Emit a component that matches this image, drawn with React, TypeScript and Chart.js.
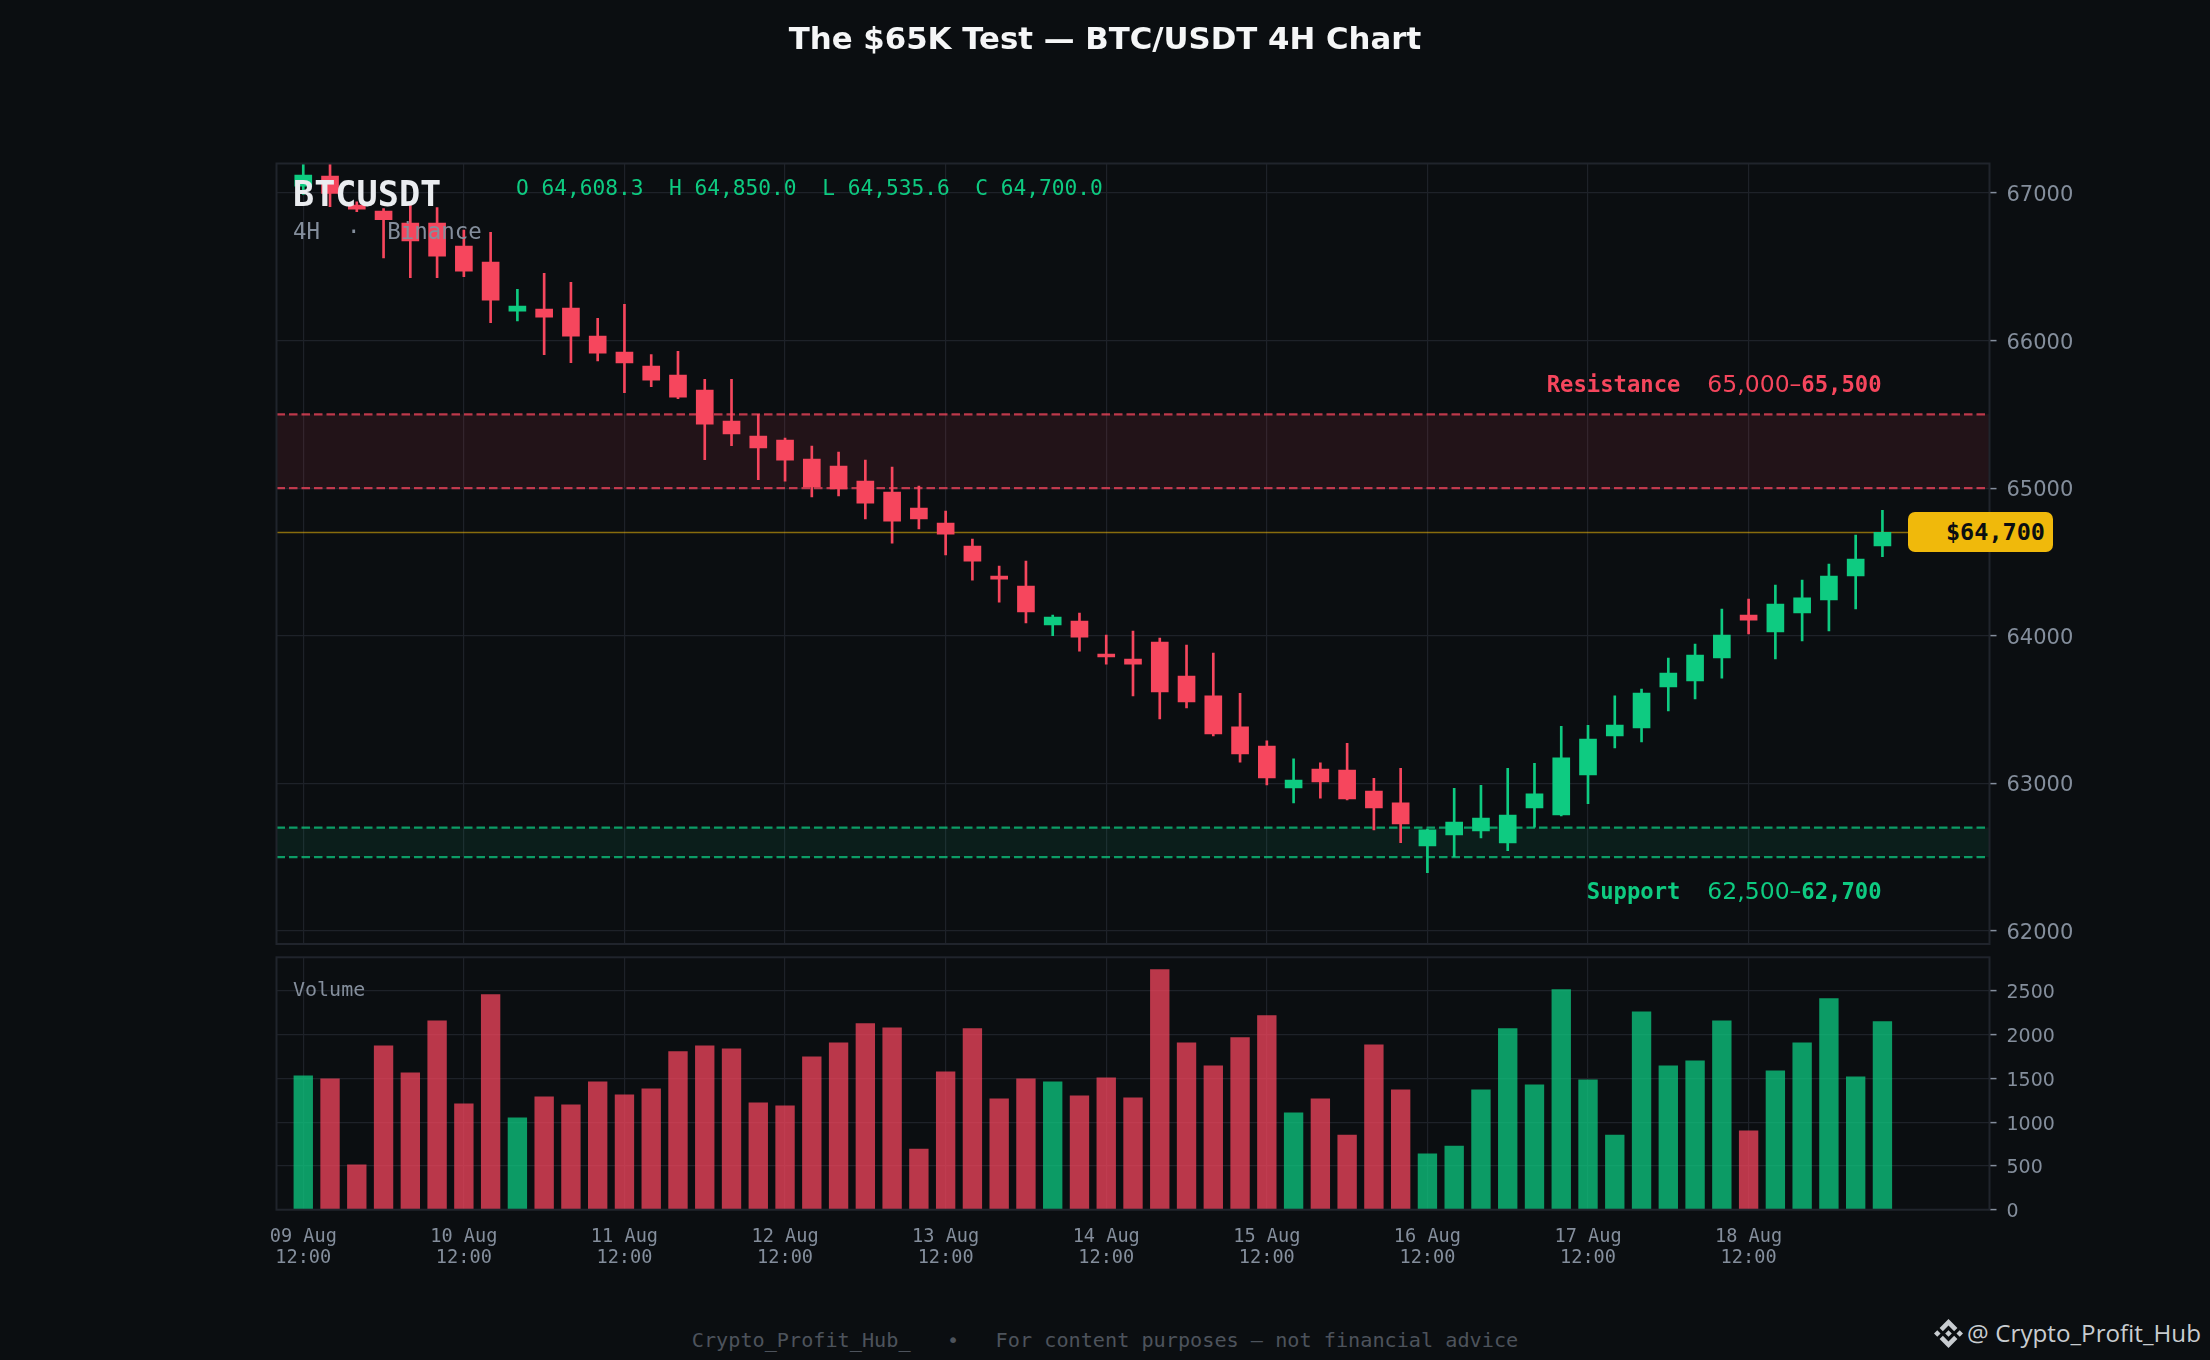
import React, { useEffect, useRef } from 'react';
import { Chart, registerables } from 'chart.js';

Chart.register(...registerables);

const MONO = '"DejaVu Sans Mono", monospace';
const SANS = '"DejaVu Sans", sans-serif';
const UP = '#0ecb81';
const DOWN = '#f6465d';
const GOLD = '#f0b90b';
const BG = '#0b0e11';
const GRID = '#1e2229';
const MUTED = '#848e9c';

const opens = [
  67047, 67115, 66918, 66877, 66796, 66796, 66640, 66532, 66200, 66213,
  66220, 66030, 65922, 65827, 65766, 65665, 65455, 65353, 65326, 65197,
  65150, 65048, 64974, 64865, 64764, 64608, 64405, 64337, 64073, 64100,
  63876, 63842, 63957, 63727, 63592, 63382, 63253, 62968, 63097, 63090,
  62948, 62867, 62575, 62650, 62677, 62596, 62833, 62785, 63056, 63321,
  63375, 63653, 63693, 63849, 64140, 64025, 64154, 64242, 64405, 64608,
];
const highs = [
  67300, 67300, 66941, 66895, 66918, 66902, 66749, 66733, 66347, 66455,
  66394, 66150, 66245, 65906, 65927, 65737, 65737, 65500, 65340, 65285,
  65245, 65190, 65143, 65014, 64845, 64655, 64472, 64506, 64140, 64154,
  64005, 64032, 63984, 63937, 63883, 63610, 63287, 63165, 63138, 63271,
  63034, 63101, 62690, 62966, 62986, 63101, 63135, 63386, 63393, 63592,
  63639, 63849, 63944, 64181, 64249, 64344, 64377, 64486, 64682, 64850,
];
const lows = [
  66990, 66907, 66873, 66561, 66426, 66426, 66433, 66121, 66134, 65904,
  65850, 65863, 65647, 65687, 65606, 65193, 65288, 65057, 65048, 64940,
  64947, 64791, 64628, 64723, 64547, 64377, 64228, 64086, 64000, 63896,
  63808, 63592, 63436, 63510, 63321, 63144, 62989, 62867, 62900, 62887,
  62684, 62598, 62395, 62503, 62629, 62544, 62702, 62779, 62862, 63239,
  63280, 63490, 63571, 63713, 64012, 63842, 63964, 64032, 64181, 64535.6,
];
const closes = [
  67121, 66997, 66891, 66819, 66676, 66572, 66471, 66274, 66234, 66159,
  66030, 65915, 65848, 65732, 65617, 65434, 65367, 65272, 65190, 65008,
  64994, 64899, 64777, 64791, 64689, 64506, 64384, 64161, 64127, 63991,
  63856, 63808, 63619, 63551, 63334, 63199, 63036, 63022, 63009, 62894,
  62833, 62724, 62684, 62738, 62765, 62785, 62928, 63172, 63300, 63395,
  63612, 63747, 63869, 64005, 64106, 64215, 64256, 64405, 64520, 64700,
];
const volumes = [
  1531, 1496, 512, 1874, 1565, 2160, 1210, 2459, 1050, 1290,
  1198, 1462, 1313, 1382, 1806, 1874, 1840, 1221, 1187, 1748,
  1908, 2126, 2080, 694, 1576, 2069, 1267, 1496, 1462, 1302,
  1507, 1279, 2744, 1908, 1645, 1966, 2218, 1106, 1267, 854,
  1885, 1370, 638, 728, 1370, 2069, 1428, 2516, 1484, 854,
  2263, 1645, 1702, 2160, 901, 1588, 1908, 2412, 1519, 2149,
];
const dayTicks = [0, 6, 12, 18, 24, 30, 36, 42, 48, 54];
const dayLabels = ['09 Aug', '10 Aug', '11 Aug', '12 Aug', '13 Aug', '14 Aug', '15 Aug', '16 Aug', '17 Aug', '18 Aug'];
const priceTicks = [62000, 63000, 64000, 65000, 66000, 67000];
const volumeTicks = [0, 500, 1000, 1500, 2000, 2500];
const resistance = [65000, 65500];
const support = [62500, 62700];
const lastPrice = 64700;
const xRange = [-1, 63];

const candleColors = closes.map((c, i) => (c >= opens[i] ? UP : DOWN));
const volumeColors = closes.map((c, i) => (c >= opens[i] ? 'rgba(14,203,129,0.75)' : 'rgba(246,70,93,0.75)'));

const panelFrame = {
  id: 'panelFrame',
  afterDraw(chart: Chart) {
    const { ctx, chartArea: a } = chart;
    ctx.save();
    ctx.strokeStyle = '#20242c';
    ctx.lineWidth = 2;
    ctx.strokeRect(a.left, a.top, a.right - a.left, a.bottom - a.top);
    ctx.restore();
  },
};

// canvas "middle" sits a little above the digit centre, push the y labels down
const nudgeLabels = {
  id: 'nudgeLabels',
  beforeDraw(chart: any) {
    chart.scales.y.getLabelItems().forEach((item: any) => {
      if (!item.nudged) {
        item.textOffset += 2.5;
        item.nudged = true;
      }
    });
  },
};

const hline = (y: number, color: string, extra: object) => ({
  type: 'line' as const,
  data: xRange.map((x) => ({ x, y })),
  borderColor: color,
  borderWidth: 2.2,
  pointRadius: 0,
  ...extra,
});

const xScale = (showLabels: boolean, height: number) => ({
  type: 'linear' as const,
  min: xRange[0],
  max: xRange[1],
  offset: false,
  afterBuildTicks: (s: any) => {
    s.ticks = dayTicks.map((value) => ({ value }));
  },
  afterFit: (s: any) => {
    s.height = height;
  },
  grid: { color: GRID, offset: false, drawTicks: false, lineWidth: 1.2 },
  border: { display: false },
  ticks: {
    display: showLabels,
    autoSkip: false,
    maxRotation: 0,
    padding: 17.5,
    color: MUTED,
    font: { family: MONO, size: 18.6, lineHeight: 1.12 },
    callback: (v: any) => [dayLabels[dayTicks.indexOf(v)], '12:00'],
  },
});

const yScale = (min: number, max: number, values: number[], size: number) => ({
  position: 'right' as const,
  min,
  max,
  afterBuildTicks: (s: any) => {
    s.ticks = values.map((value) => ({ value }));
  },
  afterFit: (s: any) => {
    s.width = 220.5;
    s.paddingTop = 0;
    s.paddingBottom = 0;
  },
  grid: { color: GRID, tickColor: MUTED, tickLength: 7, tickWidth: 1.5, lineWidth: 1.2 },
  border: { display: false },
  ticks: {
    padding: 10,
    color: MUTED,
    font: { family: SANS, size },
    callback: (v: any) => String(v),
  },
});

const Label: React.FC<{ x: number; y: number; right?: boolean; center?: boolean; style?: React.CSSProperties; children: React.ReactNode }> = ({
  x,
  y,
  right,
  center,
  style,
  children,
}) => (
  <div
    style={{
      position: 'absolute',
      top: y,
      left: right ? undefined : x,
      right: right ? 2210 - x : undefined,
      transform: `translate(${center ? '-50%' : '0'}, -50%)`,
      whiteSpace: 'pre',
      fontFamily: MONO,
      lineHeight: 1,
      ...style,
    }}
  >
    {children}
  </div>
);

const App: React.FC = () => {
  const priceRef = useRef<HTMLCanvasElement>(null);
  const volumeRef = useRef<HTMLCanvasElement>(null);

  useEffect(() => {
    if (!priceRef.current || !volumeRef.current) return;
    const base = {
      responsive: false,
      animation: false as const,
      devicePixelRatio: 1,
      events: [],
      plugins: { legend: { display: false }, tooltip: { enabled: false } },
    };

    const price = new Chart(priceRef.current, {
      type: 'bar',
      plugins: [panelFrame, nudgeLabels],
      data: {
        datasets: [
          hline(resistance[1], 'rgba(246,70,93,0.75)', { borderDash: [8.5, 4], fill: '+1', backgroundColor: 'rgba(246,70,93,0.1)', order: 9 }),
          hline(resistance[0], 'rgba(246,70,93,0.75)', { borderDash: [8.5, 4], order: 9 }),
          hline(support[1], 'rgba(14,203,129,0.75)', { borderDash: [8.5, 4], fill: '+1', backgroundColor: 'rgba(14,203,129,0.09)', order: 9 }),
          hline(support[0], 'rgba(14,203,129,0.75)', { borderDash: [8.5, 4], order: 9 }),
          {
            type: 'bar',
            data: opens.map((_, i) => ({ x: i, y: [lows[i], highs[i]] })),
            backgroundColor: candleColors,
            barThickness: 2,
            grouped: false,
            order: 3,
          },
          hline(lastPrice, 'rgba(240,185,11,0.55)', { borderWidth: 1.5, order: 2 }),
          {
            type: 'bar',
            data: opens.map((o, i) => ({ x: i, y: [o, closes[i]] })),
            backgroundColor: candleColors,
            barThickness: 17,
            grouped: false,
            order: 1,
          },
        ],
      } as any,
      options: {
        ...base,
        layout: { padding: { left: 276.5, top: 163.5, right: 0, bottom: 6 } },
        scales: {
          x: xScale(false, 0),
          y: yScale(61911, 67200, priceTicks, 21),
        },
      } as any,
    });

    const volume = new Chart(volumeRef.current, {
      type: 'bar',
      plugins: [panelFrame, nudgeLabels],
      data: {
        datasets: [
          {
            data: volumes.map((y, i) => ({ x: i, y })),
            backgroundColor: volumeColors,
            barThickness: 18.7,
            grouped: false,
          },
        ],
      } as any,
      options: {
        ...base,
        layout: { padding: { left: 276.5, top: 7.3, right: 0, bottom: 0 } },
        scales: {
          x: xScale(true, 60.3),
          y: yScale(0, 2885, volumeTicks, 19),
        },
      } as any,
    });

    return () => {
      price.destroy();
      volume.destroy();
    };
  }, []);

  return (
    <div style={{ position: 'absolute', left: 0, top: 0, width: 2210, height: 1360, background: BG, overflow: 'hidden' }}>
      <canvas ref={priceRef} width={2210} height={950} style={{ position: 'absolute', left: 0, top: 0 }} />
      <canvas ref={volumeRef} width={2210} height={320} style={{ position: 'absolute', left: 0, top: 950 }} />

      <Label x={1105} y={38} center style={{ fontFamily: SANS, fontWeight: 700, fontSize: 30.8, color: '#f5f6f7' }}>
        The $65K Test — BTC/USDT 4H Chart
      </Label>
      <Label x={293} y={194} style={{ fontWeight: 700, fontSize: 35.2, color: '#eaecef' }}>BTCUSDT</Label>
      <Label x={293} y={231} style={{ fontSize: 22.4, color: MUTED }}>{'4H  ·  Binance'}</Label>
      <Label x={516} y={188} style={{ fontSize: 21.2, color: UP }}>{'O 64,608.3  H 64,850.0  L 64,535.6  C 64,700.0'}</Label>

      <Label x={1881.5} y={385} right style={{ fontSize: 22.2, color: DOWN }}>
        <b>Resistance</b>
        <span style={{ fontFamily: SANS, fontSize: 23.5, marginLeft: 27 }}>65,000–</span>
        <b>65,500</b>
      </Label>
      <Label x={1881.5} y={892} right style={{ fontSize: 22.2, color: UP }}>
        <b>Support</b>
        <span style={{ fontFamily: SANS, fontSize: 23.5, marginLeft: 27 }}>62,500–</span>
        <b>62,700</b>
      </Label>

      <div
        style={{
          position: 'absolute',
          left: 1908,
          top: 512,
          width: 145,
          height: 40,
          borderRadius: 7,
          background: GOLD,
          color: '#0b0e11',
          fontFamily: MONO,
          fontWeight: 700,
          fontSize: 23.5,
          lineHeight: '40px',
          textAlign: 'right',
          paddingRight: 8,
          boxSizing: 'border-box',
        }}
      >
        $64,700
      </div>

      <Label x={293} y={989} style={{ fontSize: 20, color: MUTED }}>Volume</Label>
      <Label x={1105} y={1340} center style={{ fontSize: 20.2, color: '#4d535c' }}>
        {'Crypto_Profit_Hub_   •   For content purposes — not financial advice'}
      </Label>

      <svg viewBox="0 0 126.61 126.61" width={29} height={29} style={{ position: 'absolute', left: 1934, top: 1319 }}>
        <path
          fill="#c8ccd0"
          d="m38.73 53.2 24.59-24.58 24.6 24.6 14.3-14.31L63.32 0 24.43 38.9zM0 63.31l14.3-14.31 14.31 14.31-14.31 14.3zM38.73 73.41 63.32 98l24.6-24.6 14.31 14.29-38.9 38.91-38.91-38.88-.02-.02zM98 63.31l14.3-14.31 14.31 14.3-14.31 14.32zM77.83 63.3 63.32 48.78 52.59 59.51l-1.24 1.23-2.54 2.54 14.51 14.5 14.51-14.47z"
        />
      </svg>
      <Label x={1967} y={1333} style={{ fontFamily: '"Open Sans", sans-serif', fontSize: 24.2, color: '#c8ccd0' }}>@</Label>
      <Label x={2201} y={1333} right style={{ fontFamily: '"Open Sans", sans-serif', fontSize: 24.2, color: '#c8ccd0' }}>
        Crypto_Profit_Hub
      </Label>
    </div>
  );
};

export default App;
